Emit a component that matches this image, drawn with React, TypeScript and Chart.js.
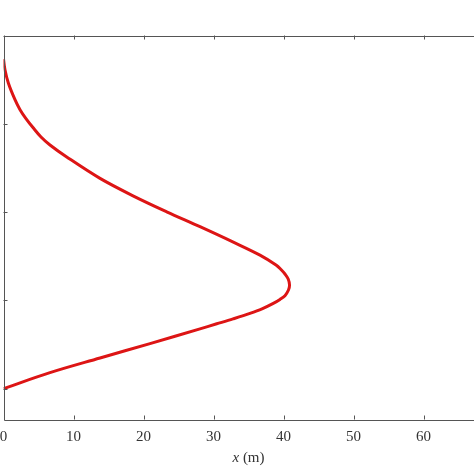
import React, { useEffect, useRef } from 'react';
import { Chart, registerables } from 'chart.js';

Chart.register(...registerables);

// x (m) against the vertical coordinate
const curveX = [0, 0.21, 0.69, 1.64, 2.36, 3.21, 4.21, 5.36, 6.64, 9.03, 13.79, 18.5, 23.31, 28.07, 32.83, 36.64, 38.93, 39.64, 40.21, 40.67, 40.86, 40.71, 40.21, 39.5, 38.54, 36.93, 35.21, 32.79, 30.46, 28.07, 20.93, 13.79, 6.64, 0];
const curveY = [3.733, 3.612, 3.462, 3.273, 3.16, 3.059, 2.957, 2.85, 2.76, 2.624, 2.381, 2.184, 2.003, 1.834, 1.659, 1.512, 1.4, 1.349, 1.298, 1.242, 1.174, 1.117, 1.053, 1.01, 0.965, 0.903, 0.852, 0.79, 0.734, 0.677, 0.51, 0.347, 0.181, 0];
const yTickValues = [0, 1, 2, 3, 4];

const SERIF = "'Liberation Serif', 'Times New Roman', serif";

const framePlugin = {
  id: 'frame',
  afterDraw(chart: any) {
    const { ctx, chartArea: a, scales } = chart;
    ctx.save();
    ctx.strokeStyle = '#555';
    ctx.lineWidth = 1;
    ctx.beginPath();
    ctx.rect(Math.round(a.left) + 0.5, Math.round(a.top) + 0.5, a.right - a.left, a.bottom - a.top);
    ctx.stroke();
    const tl = 4;
    ctx.beginPath();
    scales.x.ticks.forEach((t: any) => {
      const px = Math.round(scales.x.getPixelForValue(t.value)) + 0.5;
      ctx.moveTo(px, a.bottom);
      ctx.lineTo(px, a.bottom - tl);
      ctx.moveTo(px, a.top);
      ctx.lineTo(px, a.top + tl);
    });
    yTickValues.forEach((v) => {
      const py = Math.round(scales.y.getPixelForValue(v)) + 0.5;
      ctx.moveTo(a.left, py);
      ctx.lineTo(a.left + tl, py);
      ctx.moveTo(a.right, py);
      ctx.lineTo(a.right - tl, py);
    });
    ctx.stroke();

    // axis title with italic variable
    const cx = (a.left + a.right) / 2;
    const cy = a.bottom + 39;
    const italic = `italic 15px ${SERIF}`;
    const normal = `15px ${SERIF}`;
    ctx.font = italic;
    const w1 = ctx.measureText('x').width;
    ctx.font = normal;
    const w2 = ctx.measureText(' (m)').width;
    const x0 = cx - (w1 + w2) / 2;
    ctx.fillStyle = '#333';
    ctx.textBaseline = 'middle';
    ctx.textAlign = 'left';
    ctx.font = italic;
    ctx.fillText('x', x0, cy);
    ctx.font = normal;
    ctx.fillText(' (m)', x0 + w1, cy);
    ctx.restore();
  },
};

const ProfileChart = () => {
  const canvasRef = useRef<HTMLCanvasElement>(null);

  useEffect(() => {
    if (!canvasRef.current) return;
    const points = curveX.map((x, i) => ({ x, y: curveY[i] }));
    const chart = new Chart(canvasRef.current, {
      type: 'scatter',
      data: {
        datasets: [
          {
            data: points,
            showLine: true,
            borderColor: '#dd1515',
            borderWidth: 3,
            pointRadius: 0,
            tension: 0.35,
            fill: false,
          },
        ],
      },
      options: {
        animation: false,
        responsive: true,
        maintainAspectRatio: false,
        layout: { padding: { left: 3.5, top: 35.5, right: 26.5, bottom: 19.5 } },
        plugins: { legend: { display: false }, tooltip: { enabled: false } },
        scales: {
          x: {
            type: 'linear',
            min: 0,
            max: 70,
            grid: { display: false, drawTicks: false },
            border: { display: false },
            afterFit(scale: any) {
              scale.paddingLeft = 0;
              scale.paddingRight = 0;
            },
            ticks: {
              stepSize: 10,
              padding: 8.5,
              color: '#333',
              font: { family: SERIF, size: 15 },
            },
          },
          y: {
            type: 'linear',
            display: false,
            min: -0.35,
            max: 4,
          },
        },
      },
      plugins: [framePlugin],
    });
    return () => chart.destroy();
  }, []);

  return <canvas ref={canvasRef} />;
};

export default function App() {
  return (
    <div style={{ position: 'fixed', left: 0, top: 0, width: 474, height: 474, overflow: 'hidden', background: '#fff' }}>
      <div style={{ position: 'relative', width: 520, height: 474 }}>
        <ProfileChart />
      </div>
    </div>
  );
}
